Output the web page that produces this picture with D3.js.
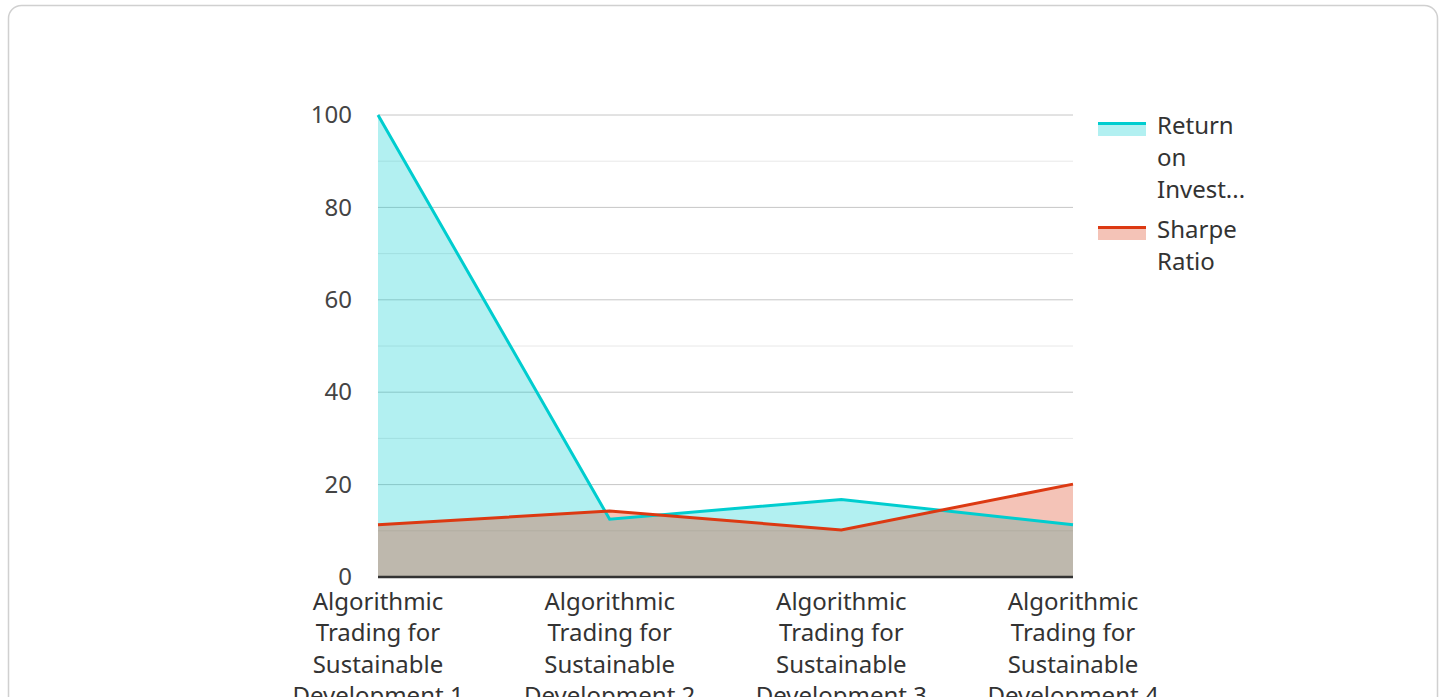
<!DOCTYPE html>
<html>
<head>
<meta charset="utf-8">
<script src="https://cdn.jsdelivr.net/npm/d3@7"></script>
<style>
  html, body { margin: 0; padding: 0; background: #fff; overflow: hidden; }
  svg { display: block; font-family: "Noto Sans", "Open Sans", sans-serif; }
</style>
</head>
<body>
<svg id="chart" width="1444" height="697"></svg>
<script>
const categories = [
  "Algorithmic Trading for Sustainable Development 1",
  "Algorithmic Trading for Sustainable Development 2",
  "Algorithmic Trading for Sustainable Development 3",
  "Algorithmic Trading for Sustainable Development 4"
];
const roiValues = [100, 12.5, 16.8, 11.3];
const sharpeValues = [11.3, 14.3, 10.2, 20.1];
const seriesNames = ["Return on Invest...", "Sharpe Ratio"];
const seriesColors = ["#00cdcf", "#dc3912"];
const yTicks = [0, 20, 40, 60, 80, 100];
const yMinorTicks = [10, 30, 50, 70, 90];

const svg = d3.select("#chart");

// card
svg.append("rect")
  .attr("x", 8.5).attr("y", 5.5)
  .attr("width", 1429).attr("height", 720)
  .attr("rx", 13).attr("ry", 13)
  .attr("fill", "#fff").attr("stroke", "#d0d0d0").attr("stroke-width", 1.5);

const pLeft = 378, pRight = 1073, pTop = 115, pBottom = 577;

const x = d3.scalePoint().domain(categories).range([pLeft, pRight]);
const y = d3.scaleLinear().domain([0, 100]).range([pBottom, pTop]);

// gridlines
svg.append("g").selectAll("line").data(yMinorTicks).join("line")
  .attr("x1", pLeft).attr("x2", pRight)
  .attr("y1", d => y(d)).attr("y2", d => y(d))
  .attr("stroke", "#e8e8e8").attr("stroke-width", 1);
svg.append("g").selectAll("line").data(yTicks.filter(d => d > 0)).join("line")
  .attr("x1", pLeft).attr("x2", pRight)
  .attr("y1", d => y(d)).attr("y2", d => y(d))
  .attr("stroke", "#c6c6c6").attr("stroke-width", 1);

// y axis labels
const yAxis = d3.axisLeft(y).tickValues(yTicks).tickSize(0).tickPadding(26);
const gy = svg.append("g").attr("transform", `translate(${pLeft},0)`).call(yAxis);
gy.select(".domain").remove();
gy.selectAll("text").attr("font-size", 24).attr("fill", "#444")
  .attr("font-family", "'Noto Sans', sans-serif");

const series = [
  { name: seriesNames[0], values: roiValues, color: seriesColors[0] },
  { name: seriesNames[1], values: sharpeValues, color: seriesColors[1] }
];

const area = d3.area()
  .x((d, i) => x(categories[i]))
  .y0(y(0))
  .y1(d => y(d));
const line = d3.line()
  .x((d, i) => x(categories[i]))
  .y(d => y(d));

series.forEach(s => {
  svg.append("path").datum(s.values)
    .attr("d", area)
    .attr("fill", s.color).attr("fill-opacity", 0.3);
});
series.forEach(s => {
  svg.append("path").datum(s.values)
    .attr("d", line)
    .attr("fill", "none").attr("stroke", s.color)
    .attr("stroke-width", 3).attr("stroke-linejoin", "miter");
});

// x axis
const xAxis = d3.axisBottom(x).tickSize(0).tickFormat("");
const gx = svg.append("g").attr("transform", `translate(0,${pBottom})`).call(xAxis);
gx.select(".domain").attr("stroke", "#333").attr("stroke-width", 2.5)
  .attr("d", `M${pLeft},0H${pRight}`);

// wrapped x labels
categories.forEach((c, i) => {
  const words = c.split(" ");
  const lines = [words[0], words[1] + " " + words[2], words[3], words[4] + " " + words[5]];
  const t = svg.append("text")
    .attr("x", x(c)).attr("y", 610)
    .attr("text-anchor", "middle")
    .attr("font-size", 24).attr("fill", "#333");
  lines.forEach((l, j) => {
    t.append("tspan").attr("x", x(c)).attr("dy", j === 0 ? 0 : 31.3).text(l);
  });
});

// legend
const legend = svg.append("g");
const legendWords = [["Return", "on", "Invest..."], ["Sharpe", "Ratio"]];
const legendTop = [118, 222];
series.forEach((s, i) => {
  const g = legend.append("g").attr("transform", `translate(1098,${legendTop[i]})`);
  g.append("rect").attr("x", 0).attr("y", 4).attr("width", 48).attr("height", 14)
    .attr("fill", s.color).attr("fill-opacity", 0.3);
  g.append("rect").attr("x", 0).attr("y", 4).attr("width", 48).attr("height", 3)
    .attr("fill", s.color);
  const t = g.append("text").attr("x", 59).attr("y", 16)
    .attr("font-size", 24).attr("fill", "#333");
  legendWords[i].forEach((w, j) => {
    t.append("tspan").attr("x", 59).attr("dy", j === 0 ? 0 : 32).text(w);
  });
});
</script>
</body>
</html>
